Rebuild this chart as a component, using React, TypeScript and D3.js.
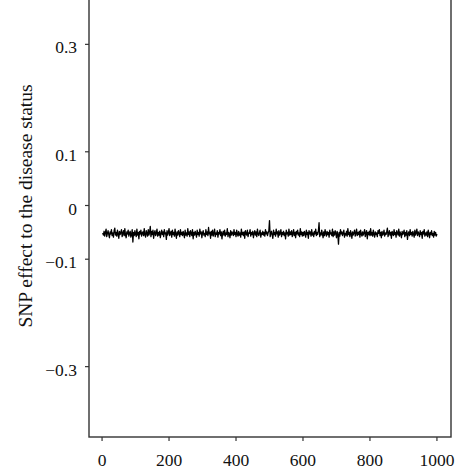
import React from "react";
import * as d3 from "d3";

const W = 474;
const H = 474;

const xTicks = [0, 200, 400, 600, 800, 1000];
const yTicks = [0.3, 0.1, 0, -0.1, -0.3];
const yTickLabels = ["0.3", "0.1", "0", "\u22120.1", "\u22120.3"];
const yTitle = "SNP effect to the disease status";

// SNP effect values, one every 2 SNPs (x = 2, 4, ..., 1000)
const effects = [
  -0.051, -0.055, -0.048, -0.057, -0.050, -0.044, -0.058, -0.052, -0.047, -0.054,
  -0.060, -0.049, -0.053, -0.045, -0.056, -0.051, -0.059, -0.047, -0.042, -0.055,
  -0.050, -0.057, -0.046, -0.053, -0.061, -0.048, -0.054, -0.050, -0.045, -0.058,
  -0.052, -0.047, -0.056, -0.043, -0.055, -0.060, -0.049, -0.053, -0.046, -0.057,
  -0.051, -0.048, -0.059, -0.054, -0.045, -0.068, -0.050, -0.056, -0.047, -0.053,
  -0.058, -0.044, -0.055, -0.050, -0.062, -0.048, -0.053, -0.046, -0.057, -0.051,
  -0.049, -0.056, -0.043, -0.054, -0.059, -0.047, -0.052, -0.057, -0.045, -0.055,
  -0.050, -0.039, -0.058, -0.048, -0.054, -0.046, -0.061, -0.051, -0.047, -0.056,
  -0.052, -0.044, -0.057, -0.050, -0.055, -0.048, -0.060, -0.053, -0.046, -0.054,
  -0.049, -0.058, -0.045, -0.053, -0.051, -0.063, -0.047, -0.055, -0.050, -0.043,
  -0.056, -0.052, -0.048, -0.059, -0.046, -0.054, -0.050, -0.057, -0.044, -0.053,
  -0.061, -0.049, -0.055, -0.047, -0.052, -0.058, -0.045, -0.054, -0.050, -0.056,
  -0.048, -0.053, -0.060, -0.046, -0.055, -0.051, -0.057, -0.043, -0.054, -0.049,
  -0.058, -0.047, -0.052, -0.056, -0.045, -0.062, -0.050, -0.055, -0.048, -0.053,
  -0.059, -0.046, -0.054, -0.050, -0.057, -0.044, -0.053, -0.049, -0.060, -0.051,
  -0.047, -0.055, -0.052, -0.058, -0.045, -0.054, -0.049, -0.056, -0.041, -0.053,
  -0.050, -0.061, -0.048, -0.055, -0.046, -0.057, -0.052, -0.044, -0.058, -0.051,
  -0.054, -0.047, -0.059, -0.050, -0.053, -0.045, -0.056, -0.049, -0.062, -0.052,
  -0.048, -0.055, -0.046, -0.057, -0.051, -0.054, -0.043, -0.058, -0.050, -0.053,
  -0.060, -0.047, -0.055, -0.049, -0.052, -0.056, -0.045, -0.054, -0.050, -0.058,
  -0.046, -0.053, -0.057, -0.048, -0.055, -0.051, -0.059, -0.044, -0.054, -0.050,
  -0.056, -0.049, -0.061, -0.047, -0.053, -0.055, -0.046, -0.058, -0.051, -0.052,
  -0.045, -0.057, -0.050, -0.054, -0.048, -0.060, -0.052, -0.047, -0.055, -0.049,
  -0.058, -0.044, -0.053, -0.056, -0.050, -0.046, -0.059, -0.051, -0.054, -0.048,
  -0.055, -0.050, -0.057, -0.045, -0.053, -0.049, -0.056, -0.051, -0.047, -0.028,
  -0.058, -0.052, -0.048, -0.055, -0.061, -0.046, -0.054, -0.050, -0.057, -0.044,
  -0.053, -0.049, -0.059, -0.047, -0.055, -0.052, -0.045, -0.058, -0.050, -0.054,
  -0.048, -0.056, -0.051, -0.062, -0.046, -0.053, -0.050, -0.057, -0.044, -0.055,
  -0.049, -0.054, -0.047, -0.058, -0.052, -0.045, -0.056, -0.050, -0.060, -0.048,
  -0.053, -0.046, -0.055, -0.051, -0.058, -0.043, -0.054, -0.049, -0.057, -0.050,
  -0.056, -0.048, -0.052, -0.059, -0.046, -0.054, -0.050, -0.061, -0.047, -0.053,
  -0.049, -0.057, -0.045, -0.055, -0.051, -0.058, -0.048, -0.053, -0.044, -0.056,
  -0.050, -0.054, -0.047, -0.032, -0.058, -0.051, -0.055, -0.046, -0.053, -0.060,
  -0.049, -0.056, -0.045, -0.052, -0.057, -0.048, -0.054, -0.050, -0.059, -0.046,
  -0.053, -0.051, -0.056, -0.044, -0.058, -0.049, -0.055, -0.047, -0.052, -0.060,
  -0.048, -0.054, -0.072, -0.050, -0.057, -0.045, -0.053, -0.049, -0.056, -0.051,
  -0.046, -0.059, -0.052, -0.055, -0.048, -0.057, -0.043, -0.054, -0.050, -0.058,
  -0.047, -0.053, -0.061, -0.049, -0.055, -0.051, -0.046, -0.057, -0.052, -0.044,
  -0.056, -0.050, -0.054, -0.048, -0.059, -0.046, -0.053, -0.057, -0.049, -0.055,
  -0.051, -0.045, -0.058, -0.052, -0.047, -0.062, -0.050, -0.054, -0.048, -0.056,
  -0.043, -0.055, -0.050, -0.057, -0.046, -0.053, -0.059, -0.049, -0.054, -0.051,
  -0.058, -0.047, -0.052, -0.045, -0.056, -0.050, -0.060, -0.048, -0.055, -0.053,
  -0.046, -0.057, -0.051, -0.054, -0.049, -0.042, -0.058, -0.052, -0.047, -0.055,
  -0.050, -0.061, -0.048, -0.053, -0.056, -0.045, -0.054, -0.050, -0.059, -0.047,
  -0.052, -0.055, -0.044, -0.057, -0.049, -0.053, -0.060, -0.048, -0.054, -0.051,
  -0.046, -0.058, -0.050, -0.055, -0.047, -0.063, -0.052, -0.049, -0.056, -0.045,
  -0.054, -0.050, -0.057, -0.048, -0.053, -0.059, -0.046, -0.055, -0.051, -0.044,
  -0.056, -0.049, -0.052, -0.058, -0.047, -0.054, -0.050, -0.061, -0.048, -0.053,
  -0.045, -0.057, -0.051, -0.055, -0.049, -0.058, -0.046, -0.053, -0.060, -0.050,
  -0.054, -0.047, -0.056, -0.052, -0.059, -0.048, -0.055, -0.050, -0.057, -0.053,
];
const snpIndex = effects.map((_, i) => (i + 1) * 2);

export default function App() {
  const left = 89, right = 451, bottom = 437, top = -26;
  const x = d3.scaleLinear().domain([-39, 1042]).range([left, right]);
  const y = d3.scaleLinear().domain([-0.431, 0.431]).range([bottom, top]);
  const line = d3
    .line<number>()
    .x((_, i) => x(snpIndex[i]))
    .y((d) => y(d));
  const font = "'Liberation Serif', 'DejaVu Serif', serif";
  const axisColor = "#333";
  return (
    <svg
      width={W}
      height={H}
      style={{ position: "absolute", left: 0, top: 0, background: "#fff" }}
      fontFamily={font}
    >
      <rect x={0} y={0} width={W} height={H} fill="#fff" />
      <rect
        x={left}
        y={top}
        width={right - left}
        height={bottom - top}
        fill="none"
        stroke={axisColor}
        strokeWidth={1.4}
      />
      {yTicks.map((t, i) => (
        <g key={"y" + t}>
          <line x1={left - 4} x2={left} y1={y(t)} y2={y(t)} stroke={axisColor} strokeWidth={1.2} />
          <text x={left - 12} y={y(t) + 9} textAnchor="end" fontSize={17.5} fill="#111">
            {yTickLabels[i]}
          </text>
        </g>
      ))}
      {xTicks.map((t) => (
        <g key={"x" + t}>
          <line x1={x(t)} x2={x(t)} y1={bottom} y2={bottom + 4} stroke={axisColor} strokeWidth={1.2} />
          <text x={x(t)} y={466} textAnchor="middle" fontSize={17.5} fill="#111">
            {t}
          </text>
        </g>
      ))}
      <text
        transform={`translate(32,206) rotate(-90)`}
        textAnchor="middle"
        fontSize={19.5}
        fill="#111"
      >
        {yTitle}
      </text>
      <path d={line(effects) || ""} fill="none" stroke="#000" strokeWidth={1.3} strokeLinejoin="round" />
    </svg>
  );
}
